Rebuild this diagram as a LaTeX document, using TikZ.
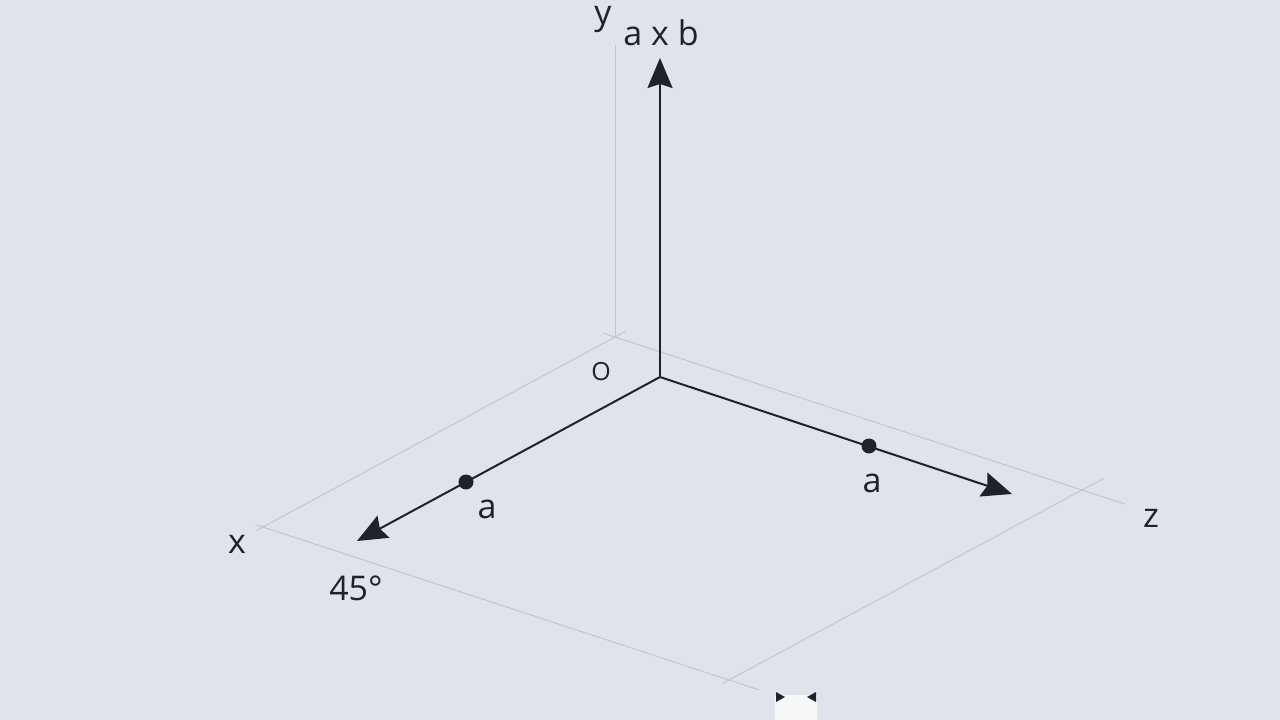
\documentclass[tikz,border=0pt]{standalone}
\usepackage{fontspec}
\setmainfont{Open Sans}
\usetikzlibrary{arrows.meta}
\definecolor{bgc}{RGB}{223,227,234}
\definecolor{faint}{RGB}{194,199,207}
\definecolor{ink}{RGB}{30,34,42}
\tikzset{
  axis/.style={draw=ink, line width=2bp, -{Stealth[length=30bp,width=25bp,inset=4bp]}},
  guide/.style={draw=faint, line width=1bp},
  dotmark/.style={circle, fill=ink, inner sep=0pt, minimum size=15bp},
  lbl/.style={text=ink, inner sep=0pt, anchor=base, font=\fontsize{34bp}{40bp}\selectfont},
}
\begin{document}
\begin{tikzpicture}[x=1bp,y=-1bp]
\fill[bgc] (0,0) rectangle (1280,720);
\useasboundingbox (0,0) rectangle (1280,720);
% guide plane
\coordinate (B) at (615,337);
\coordinate (L) at (263,527);
\coordinate (R) at (1082,490);
\coordinate (F) at (729,680);
\coordinate (T) at (615,45);
\draw[guide, shorten <=-12bp, shorten >=-8bp] (B) -- (L);
\draw[guide, shorten <=-12bp, shorten >=-45bp] (B) -- (R);
\draw[guide, shorten <=-8bp, shorten >=-32bp] (L) -- (F);
\draw[guide, shorten <=-25bp, shorten >=-8bp] (R) -- (F);
\draw[guide] (B) -- (T);
% axes
\coordinate (O) at (660,377);
\coordinate (yt) at (660,58);
\coordinate (xt) at (357,541);
\coordinate (zt) at (1012,494);
\draw[axis] (O) -- (yt);
\draw[axis] (O) -- (xt);
\draw[axis] (O) -- (zt);
\node[dotmark] (dx) at (466,482) {};
\node[dotmark] (dz) at (869,446) {};
% labels
\node[lbl] (ly) at (603,25) {y};
\node[lbl] (lab) at (661,46) {a x b};
\node[lbl, font=\fontsize{25bp}{30bp}\selectfont] (lo) at (601,380) {O};
\node[lbl] (lax) at (487,518) {a};
\node[lbl] (laz) at (872,492) {a};
\node[lbl] (lx) at (237,553) {x};
\node[lbl] (lz) at (1151,527) {z};
\node[lbl] (l45) at (356,600) {45°};
% bottom fragment
\fill[white!70!bgc] (775,695) rectangle (817,720);
\fill[ink] (776,692) -- (785,697) -- (776,702) -- cycle;
\fill[ink] (816,692) -- (807,697) -- (816,702) -- cycle;
\end{tikzpicture}
\end{document}
